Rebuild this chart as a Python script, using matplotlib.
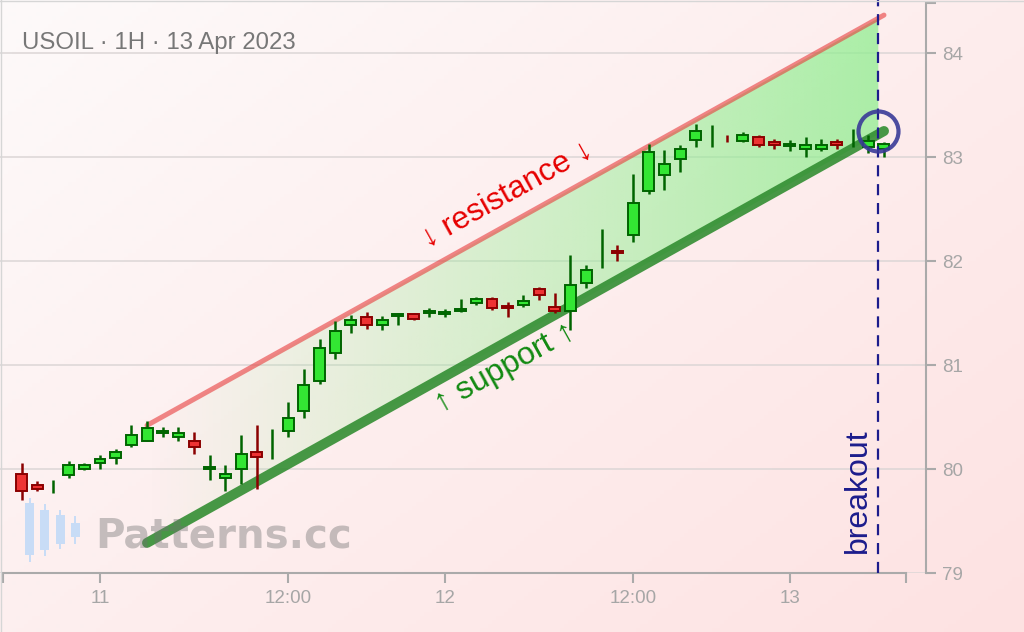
import numpy as np
import matplotlib
matplotlib.use("Agg")
import matplotlib.pyplot as plt
from matplotlib.patches import Polygon, Rectangle
from matplotlib.lines import Line2D
from matplotlib.ticker import FixedLocator

# ---------------- data ----------------
title = "USOIL · 1H · 13 Apr 2023"
opens = [79.95, 79.85, 79.83, 79.94, 80.00, 80.06, 80.11, 80.23, 80.27, 80.345,
         80.31, 80.27, 80.00, 79.91, 80.00, 80.16, 80.24, 80.365, 80.56, 80.85,
         81.12, 81.385, 81.465, 81.385, 81.475, 81.49, 81.50, 81.49, 81.52, 81.595,
         81.635, 81.565, 81.577, 81.73, 81.56, 81.52, 81.79, 82.10, 82.10, 82.25,
         82.67, 82.83, 82.98, 83.16, 83.20, 83.181, 83.15, 83.195, 83.14, 83.105,
         83.08, 83.08, 83.14, 83.18, 83.10, 83.08]
highs = [80.06, 79.88, 79.89, 80.08, 80.06, 80.13, 80.19, 80.42, 80.46, 80.40,
         80.40, 80.36, 80.13, 80.04, 80.33, 80.42, 80.385, 80.64, 80.96, 81.25,
         81.42, 81.48, 81.51, 81.47, 81.50, 81.50, 81.55, 81.535, 81.635, 81.65,
         81.65, 81.61, 81.67, 81.75, 81.69, 82.06, 81.96, 82.31, 82.15, 82.84,
         83.13, 83.07, 83.12, 83.32, 83.31, 83.21, 83.24, 83.21, 83.17, 83.16,
         83.19, 83.17, 83.17, 83.27, 83.21, 83.14]
lows = [79.70, 79.79, 79.77, 79.91, 79.99, 80.00, 80.045, 80.21, 80.27, 80.31,
        80.27, 80.14, 79.89, 79.79, 79.855, 79.81, 80.10, 80.31, 80.49, 80.82,
        81.06, 81.31, 81.35, 81.34, 81.38, 81.43, 81.465, 81.465, 81.505, 81.58,
        81.53, 81.465, 81.56, 81.625, 81.50, 81.34, 81.74, 81.93, 82.00, 82.18,
        82.64, 82.68, 82.86, 83.10, 83.10, 83.14, 83.14, 83.10, 83.08, 83.06,
        83.00, 83.06, 83.08, 83.10, 83.04, 83.00]
closes = [79.79, 79.81, 79.83, 80.04, 80.04, 80.10, 80.16, 80.33, 80.39, 80.365,
          80.35, 80.21, 80.02, 79.95, 80.14, 80.115, 80.24, 80.49, 80.81, 81.16,
          81.33, 81.43, 81.385, 81.43, 81.495, 81.44, 81.52, 81.51, 81.54, 81.635,
          81.55, 81.545, 81.615, 81.67, 81.52, 81.77, 81.91, 82.10, 82.08, 82.56,
          83.045, 82.93, 83.08, 83.25, 83.20, 83.179, 83.21, 83.115, 83.12, 83.125,
          83.12, 83.12, 83.12, 83.18, 83.157, 83.13]
x_tick_pos = [5, 17, 27, 39, 49]
x_tick_labels = ["11", "12:00", "12", "12:00", "13"]
y_ticks = [79, 80, 81, 82, 83, 84]
res_x = [8, 55]
res_y = [80.42, 84.365]
sup_x = [8, 55]
sup_y = [79.29, 83.25]
breakout_x = 54.64
circle_x, circle_y = 54.64, 83.25

# ---------------- figure ----------------
W, H = 1024, 632
fig = plt.figure(figsize=(W / 100, H / 100), dpi=100)
plt.rcParams["font.family"] = ["Liberation Sans", "DejaVu Sans"]

# background gradient
bg = fig.add_axes([0, 0, 1, 1], zorder=-10)
gx = np.linspace(0, 1, 256)
gy = np.linspace(0, 1, 160)
GX, GY = np.meshgrid(gx, gy)
t = np.clip(0.55 * GX + 0.45 * GY, 0, 1)
c0 = np.array([253, 250, 250]) / 255
c1 = np.array([253, 226, 226]) / 255
img = c0[None, None, :] * (1 - t[..., None]) + c1[None, None, :] * t[..., None]
bg.imshow(img, aspect="auto", extent=[0, 1, 1, 0])
bg.set_xlim(0, 1)
bg.set_ylim(1, 0)
bg.axis("off")

ax = fig.add_axes([0, 59 / H, 926 / W, 573 / H])
ax.set_facecolor("none")

# gradient fill of the channel
xs = np.linspace(sup_x[0], breakout_x, 60)
sup_line = np.interp(xs, sup_x, sup_y)
res_line = np.interp(xs, res_x, res_y)
verts = list(zip(xs, res_line)) + list(zip(xs[::-1], sup_line[::-1]))
poly = Polygon(verts, closed=True, facecolor="none", edgecolor="none")
ax.add_patch(poly)
grad = np.zeros((2, 256, 4))
grad[..., :3] = np.array([144, 238, 144]) / 255
grad[..., 3] = np.linspace(0.0, 0.75, 256)[None, :]
gim = ax.imshow(grad, extent=[sup_x[0], breakout_x, min(sup_y), max(res_y)],
                aspect="auto", origin="lower", zorder=1, interpolation="bilinear")
gim.set_clip_path(poly)

# channel lines
ax.plot(res_x, res_y, color="#e83c3c", alpha=0.6, lw=3.6,
        solid_capstyle="round", zorder=2)
ax.plot(sup_x, sup_y, color="#2e8b2e", alpha=0.88, lw=7.2,
        solid_capstyle="round", zorder=2)

# candles
idx = np.arange(len(opens))
o = np.array(opens); c = np.array(closes)
up = c >= o
wick_cols = np.where(up, "#006400", "#8b0000")
ax.vlines(idx, lows, highs, colors=wick_cols, lw=1.8, zorder=3)
has_body = np.abs(c - o) >= 0.005
fills = np.where(up, "#33e633", "#ee3333")
ax.bar(idx[has_body], (c - o)[has_body], bottom=o[has_body], width=0.7,
       color=fills[has_body], edgecolor=wick_cols[has_body], lw=1.4, zorder=4)

# breakout
ax.axvline(breakout_x, color="#1c1c8c", lw=1.6, ls=(0, (5, 3.5)), zorder=5)
ax.plot([circle_x], [circle_y], marker="o", ms=28.8, mfc="none",
        mec="#3a3a98", mew=3, alpha=0.9, zorder=6)

# axes setup
ax.set_xlim(-1.378, 57.68)
ax.set_ylim(79, 84.51)
ax.set_xticks(x_tick_pos)
ax.set_xticklabels(x_tick_labels)
ax.set_yticks(y_ticks)
ax.xaxis.set_minor_locator(FixedLocator([-1.19, 56.40]))
ax.yaxis.set_minor_locator(FixedLocator([84.48]))
ax.yaxis.tick_right()
for s in ["left", "top"]:
    ax.spines[s].set_visible(False)
for s in ["bottom", "right"]:
    ax.spines[s].set_color("#aaaaaa")
    ax.spines[s].set_linewidth(1.5)
ax.spines["bottom"].set_bounds(-1.19, 56.40)
ax.spines["right"].set_bounds(79, 84.48)
ax.tick_params(axis="both", which="both", direction="out", length=7.5,
               width=1.5, color="#aaaaaa", labelcolor="#a6a6a6", labelsize=13.5)
ax.tick_params(axis="x", pad=5)
ax.tick_params(axis="y", pad=4)
ax.set_axisbelow(True)
ax.yaxis.grid(True, which="major", color="#dcd6d6", lw=1.1)

# annotations
def screen_angle(xv, yv):
    p = ax.transData.transform(np.column_stack([xv, yv]))
    return np.degrees(np.arctan2(p[1, 1] - p[0, 1], p[1, 0] - p[0, 0]))

ang = screen_angle(res_x, res_y)
ax.text(30.96, 82.635, "↓ resistance ↓", color="#e60000", fontsize=22.5,
        rotation=ang, rotation_mode="anchor", ha="center", va="center", zorder=7)
ax.text(30.83, 80.97, "↑ support ↑", color="#128a12", fontsize=23,
        rotation=ang, rotation_mode="anchor", ha="center", va="center", zorder=7)
ax.text(54.3, 79.19, "breakout", color="#1c1c8c", fontsize=23, rotation=90,
        ha="right", va="bottom", zorder=7)

# title
fig.text(22 / W, 1 - 49 / H, title, color="#777777", fontsize=17.3, va="baseline")

# watermark
fig.text(95 / W, 1 - 548 / H, "Patterns.cc", fontsize=29, weight="bold",
         family="DejaVu Sans", color="#707070", alpha=0.4, va="baseline")
icon = [(29.5, 503, 555, 498, 562), (44.5, 510, 550, 504, 556),
        (60, 515, 544, 510, 549), (75, 523, 537, 516, 544)]
for cx, bt, bb, wt, wb in icon:
    fig.add_artist(Rectangle(((cx - 1) / W, 1 - wb / H), 2 / W, (wb - wt) / H,
                             transform=fig.transFigure, color="#c8dcf6", lw=0))
    fig.add_artist(Rectangle(((cx - 4.5) / W, 1 - bb / H), 9 / W, (bb - bt) / H,
                             transform=fig.transFigure, color="#c8dcf6", lw=0))

# thin border top/left
fig.add_artist(Line2D([0, 1], [1 - 0.5 / H] * 2, transform=fig.transFigure,
                      color="#d6d6d6", lw=1))
fig.add_artist(Line2D([0.5 / W] * 2, [0, 1], transform=fig.transFigure,
                      color="#d6d6d6", lw=1))

fig.savefig("out.png", dpi=100)
